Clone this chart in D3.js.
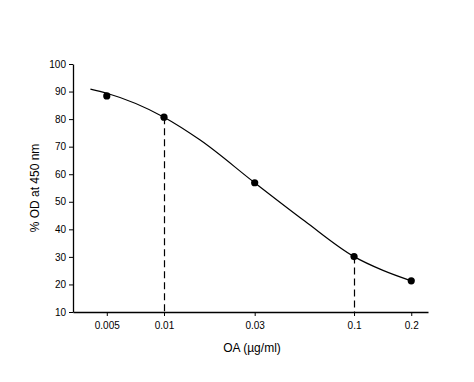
<!DOCTYPE html>
<html>
<head>
<meta charset="utf-8">
<script src="https://cdn.jsdelivr.net/npm/d3@7"></script>
<style>
  body { margin: 0; background: #fff; }
  svg text { font-family: "Liberation Sans", Arial, sans-serif; fill: #000; }
</style>
</head>
<body>
<div class="chart"></div>
<script>
// measured points
const doses = [0.005, 0.01, 0.03, 0.1, 0.2];
const odValues = [88.4, 80.7, 56.9, 30.1, 21.3];

// fitted curve
const curveDoses = [0.0041, 0.005, 0.01, 0.0155, 0.03, 0.055, 0.1, 0.142, 0.2];
const curveValues = [90.9, 89.4, 80.7, 72.4, 56.9, 43.0, 30.1, 25.1, 21.3];

// dashed drop lines
const dropDoses = [0.01, 0.1];
const dropValues = [80.7, 30.1];

const xTicks = [0.005, 0.01, 0.03, 0.1, 0.2];
const xTickLabels = ['0.005', '0.01', '0.03', '0.1', '0.2'];
const yTicks = [10, 20, 30, 40, 50, 60, 70, 80, 90, 100];

const width = 474, height = 382;
const margin = { top: 64, right: 46, bottom: 70, left: 73 };

const svg = d3.select('div.chart')
  .append('svg')
  .attr('width', width)
  .attr('height', height);

const x = d3.scaleLog()
  .domain([0.00332, 0.245])
  .range([margin.left, width - margin.right]);

const y = d3.scaleLinear()
  .domain([10, 100])
  .range([height - margin.bottom, margin.top]);

// axes
svg.append('g')
  .attr('transform', `translate(0,${height - margin.bottom})`)
  .call(d3.axisBottom(x)
    .tickValues(xTicks)
    .tickFormat((d, i) => xTickLabels[i])
    .tickSize(4)
    .tickPadding(6)
    .tickSizeOuter(0));

svg.append('g')
  .attr('transform', `translate(${margin.left},0)`)
  .call(d3.axisLeft(y)
    .tickValues(yTicks)
    .tickSize(4)
    .tickPadding(3)
    .tickSizeOuter(0));

svg.selectAll('.domain').attr('stroke', '#000').attr('stroke-width', 1.3);
svg.selectAll('.tick line').attr('stroke', '#000').attr('stroke-width', 1);
svg.selectAll('.tick text')
  .style('font-family', '"Liberation Sans", Arial, sans-serif')
  .style('font-size', '10px');

// titles
svg.append('text')
  .attr('x', 252)
  .attr('y', 352)
  .attr('text-anchor', 'middle')
  .style('font-size', '12px')
  .text('OA (\u00b5g/ml)');

svg.append('text')
  .attr('transform', `translate(39,${(margin.top + height - margin.bottom) / 2}) rotate(-90)`)
  .attr('text-anchor', 'middle')
  .style('font-size', '12px')
  .text('% OD at 450 nm');

// drop lines
svg.selectAll('.drop')
  .data(dropDoses)
  .enter()
  .append('line')
  .attr('class', 'drop')
  .attr('x1', d => Math.round(x(d)) + 0.5)
  .attr('x2', d => Math.round(x(d)) + 0.5)
  .attr('y1', (d, i) => y(dropValues[i]))
  .attr('y2', y(10))
  .attr('stroke', '#000')
  .attr('stroke-width', 1.2)
  .attr('stroke-dasharray', '7,4');

// fitted curve
const line = d3.line()
  .x((d, i) => x(curveDoses[i]))
  .y(d => y(d))
  .curve(d3.curveMonotoneX);

svg.append('path')
  .datum(curveValues)
  .attr('d', line)
  .attr('fill', 'none')
  .attr('stroke', '#000')
  .attr('stroke-width', 1.2);

// points
svg.selectAll('.pt')
  .data(odValues)
  .enter()
  .append('circle')
  .attr('class', 'pt')
  .attr('cx', (d, i) => x(doses[i]))
  .attr('cy', d => y(d))
  .attr('r', 3.6)
  .attr('fill', '#000');
</script>
</body>
</html>
